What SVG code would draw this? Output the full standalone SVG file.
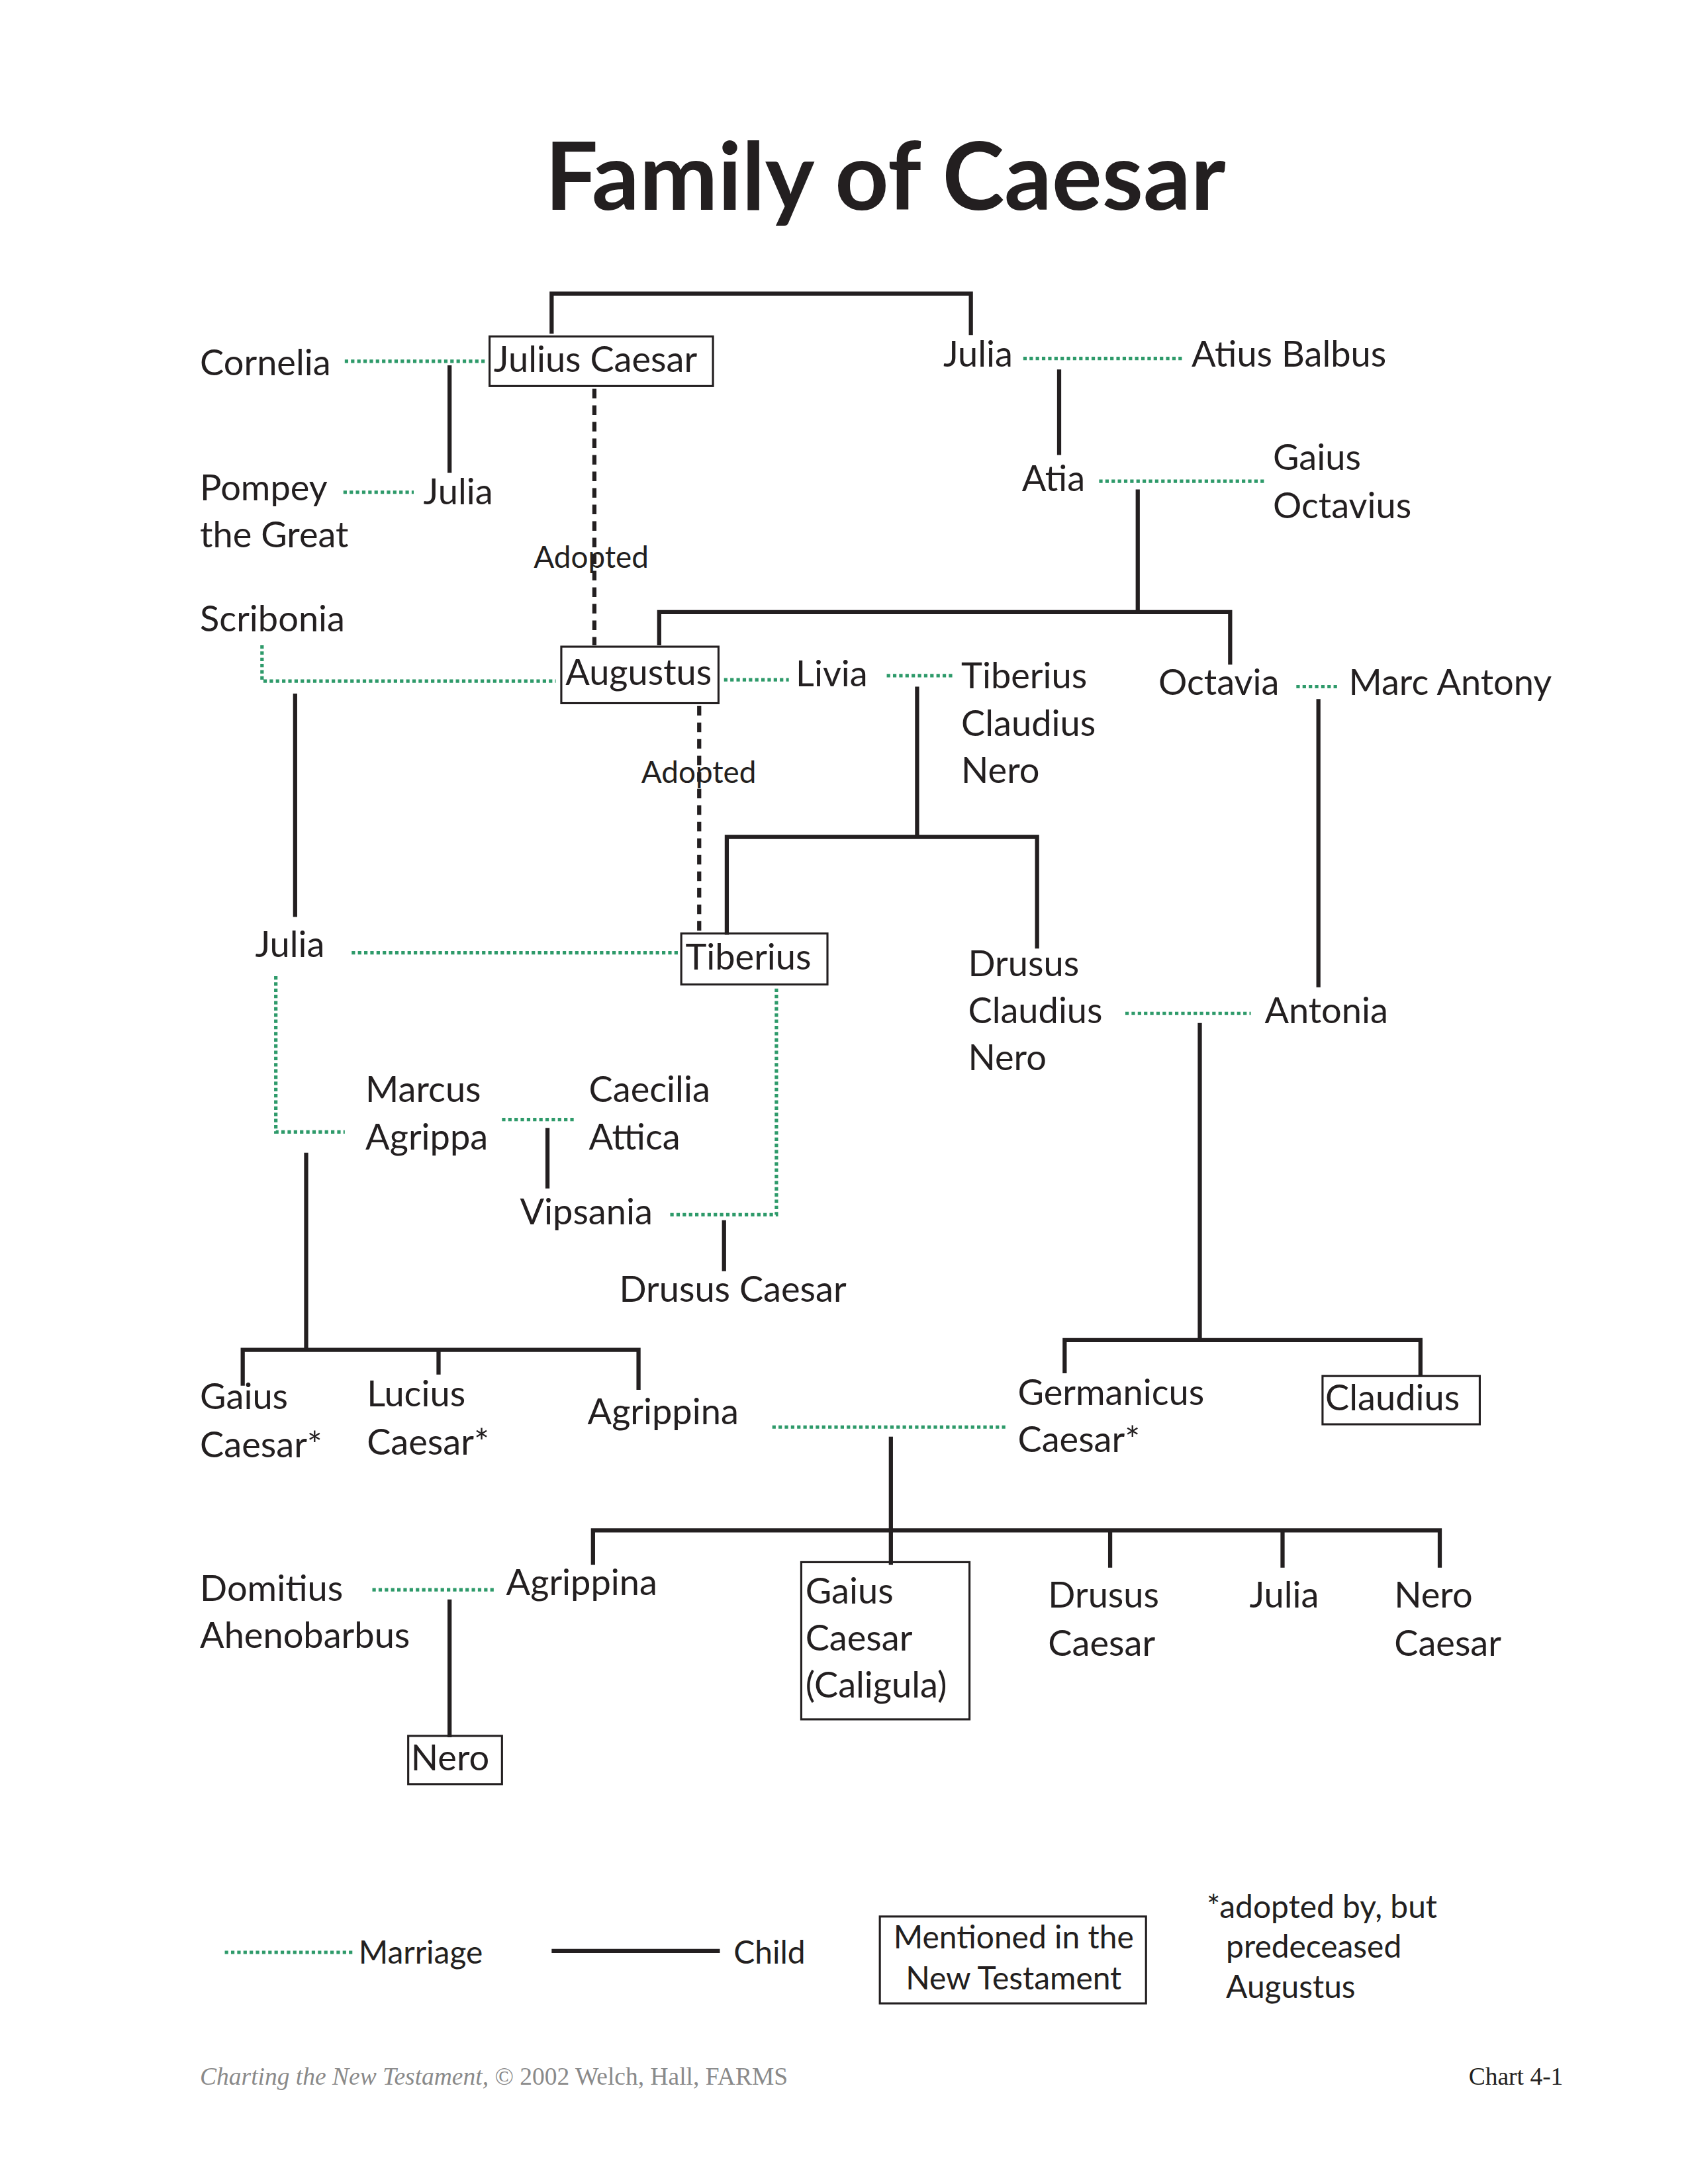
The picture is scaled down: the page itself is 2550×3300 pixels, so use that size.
<svg xmlns="http://www.w3.org/2000/svg" width="2550" height="3300" viewBox="0 0 2550 3300">
<style>
text{font-family:Lato,"Open Sans","DejaVu Sans",sans-serif;font-size:26px;fill:#231f20}
.t{font-size:68px;font-weight:bold}
.s{font-size:22px}
.l{font-size:23px}
.f{font-family:"Liberation Serif",serif;font-size:18px}
.c{stroke:#231f20;stroke-width:3;fill:none}
.m{stroke:#2e9a6a;stroke-width:2.5;stroke-dasharray:2.5 2;fill:none}
.a{stroke:#231f20;stroke-width:3;stroke-dasharray:7 5;fill:none}
.b{stroke:#231f20;stroke-width:1.5;fill:none}
</style>
<rect width="2550" height="3300" fill="#fff"/>
<g transform="scale(2.08333)">
<text class="t" x="642" y="152" text-anchor="middle">Family of Caesar</text>
<g id="connectors">
<path class="c" d="M400 242V213H704V243"/>
<path class="m" d="M250 262H352"/>
<path class="c" d="M326 265V343"/>
<path class="m" d="M249 357H300"/>
<path class="a" d="M431 282V468"/>
<path class="m" d="M742 260H857"/>
<path class="c" d="M768 268V330"/>
<path class="m" d="M797 349H917"/>
<path class="c" d="M825 355V444M478 468V444H892V482"/>
<path class="m" d="M190 468V494H403"/>
<path class="m" d="M525 493H572M643 490H692M940 498H970"/>
<path class="c" d="M214 503V665"/>
<path class="a" d="M507 512V678"/>
<path class="c" d="M665 498V607M527 678V607H752V688"/>
<path class="c" d="M956 507V716"/>
<path class="m" d="M255 691H492M816 735H907"/>
<path class="m" d="M200 708V821H250M563 717V881H484M364 812H416"/>
<path class="c" d="M397 818V862M525 885V922"/>
<path class="c" d="M222 836V979M176 1005V979H463V1008M318 979V997"/>
<path class="c" d="M870 742V972M772 996V972H1030V998"/>
<path class="m" d="M560 1035H730M270 1153H360"/>
<path class="c" d="M646 1042V1135M430 1135V1110H1044V1137M805 1110V1137M930 1110V1137"/>
<path class="c" d="M326 1160V1260"/>
</g>
<g id="cornelia"><text x="145" y="272">Cornelia</text></g>
<g id="julius"><rect class="b" x="355" y="244" width="162" height="36"/><text x="358" y="270">Julius Caesar</text></g>
<g id="pompey"><text x="145" y="363">Pompey</text><text x="145" y="397">the Great</text></g>
<g id="julia1"><text x="307" y="366">Julia</text></g>
<g id="adopted1"><text class="s" x="387" y="412">Adopted</text></g>
<g id="julia0"><text x="684" y="266">Julia</text></g>
<g id="atius"><text x="864" y="266">Atius Balbus</text></g>
<g id="atia"><text x="741" y="356">Atia</text></g>
<g id="octavius"><text x="923" y="341">Gaius</text><text x="923" y="376">Octavius</text></g>
<g id="scribonia"><text x="145" y="458">Scribonia</text></g>
<g id="augustus"><rect class="b" x="407" y="469" width="114" height="41"/><text x="410" y="497">Augustus</text></g>
<g id="livia"><text x="577" y="498">Livia</text></g>
<g id="tcn"><text x="697" y="499">Tiberius</text><text x="697" y="534">Claudius</text><text x="697" y="568">Nero</text></g>
<g id="octavia"><text x="840" y="504">Octavia</text></g>
<g id="antony"><text x="978" y="504">Marc Antony</text></g>
<g id="adopted2"><text class="s" x="465" y="568">Adopted</text></g>
<g id="julia2"><text x="185" y="694">Julia</text></g>
<g id="tiberius"><rect class="b" x="494" y="677" width="106" height="37"/><text x="497" y="703">Tiberius</text></g>
<g id="drusus"><text x="702" y="708">Drusus</text><text x="702" y="742">Claudius</text><text x="702" y="776">Nero</text></g>
<g id="antonia"><text x="917" y="742">Antonia</text></g>
<g id="agrippa"><text x="265" y="799">Marcus</text><text x="265" y="834">Agrippa</text></g>
<g id="caecilia"><text x="427" y="799">Caecilia</text><text x="427" y="834">Attica</text></g>
<g id="vipsania"><text x="377" y="888">Vipsania</text></g>
<g id="drususc"><text x="449" y="944">Drusus Caesar</text></g>
<g id="gaiusc"><text x="145" y="1022">Gaius</text><text x="145" y="1057">Caesar*</text></g>
<g id="luciusc"><text x="266" y="1020">Lucius</text><text x="266" y="1055">Caesar*</text></g>
<g id="agrippina1"><text x="426" y="1033">Agrippina</text></g>
<g id="germanicus"><text x="738" y="1019">Germanicus</text><text x="738" y="1053">Caesar*</text></g>
<g id="claudius"><rect class="b" x="959" y="998" width="114" height="35"/><text x="961" y="1023">Claudius</text></g>
<g id="domitius"><text x="145" y="1161">Domitius</text><text x="145" y="1195">Ahenobarbus</text></g>
<g id="agrippina2"><text x="367" y="1157">Agrippina</text></g>
<g id="nero"><rect class="b" x="296" y="1259" width="68" height="35"/><text x="298" y="1284">Nero</text></g>
<g id="caligula"><rect class="b" x="581" y="1133" width="122" height="114"/><text x="584" y="1163">Gaius</text><text x="584" y="1197">Caesar</text><text x="584" y="1231">(Caligula)</text></g>
<g id="drusus2"><text x="760" y="1166">Drusus</text><text x="760" y="1201">Caesar</text></g>
<g id="julia3"><text x="906" y="1166">Julia</text></g>
<g id="neroc"><text x="1011" y="1166">Nero</text><text x="1011" y="1201">Caesar</text></g>
<g id="legend">
<path class="m" d="M163 1416H256"/><text class="l" x="260" y="1424">Marriage</text>
<path class="c" d="M400 1415H522"/><text class="l" x="532" y="1424">Child</text>
<rect class="b" x="638" y="1390" width="193" height="63"/>
<text class="l" x="735" y="1413" text-anchor="middle">Mentioned in the</text>
<text class="l" x="735" y="1443" text-anchor="middle">New Testament</text>
<text class="l" x="875" y="1391">*adopted by, but</text>
<text class="l" x="889" y="1420">predeceased</text>
<text class="l" x="889" y="1449">Augustus</text>
</g>
<text class="f" x="145" y="1512" fill="#8a8a8a" style="fill:#8a8a8a"><tspan font-style="italic">Charting the New Testament,</tspan> © 2002 Welch, Hall, FARMS</text>
<text class="f" x="1065" y="1512">Chart 4-1</text>
</g>
</svg>
